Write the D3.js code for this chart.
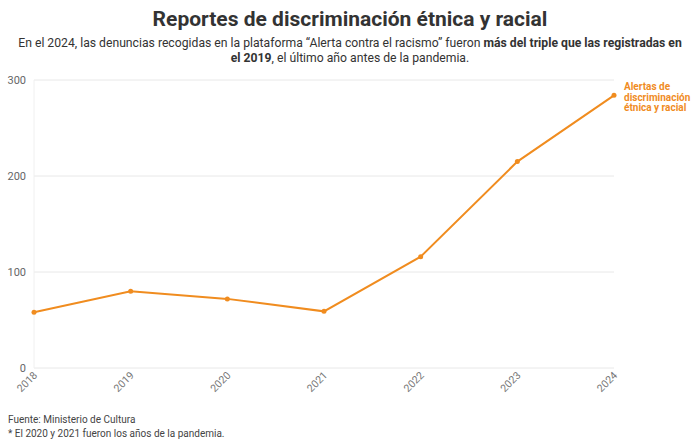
<!DOCTYPE html>
<html>
<head>
<meta charset="utf-8">
<script src="https://cdn.jsdelivr.net/npm/d3@7"></script>
<style>
  body { margin: 0; background: #fff; }
  svg text { font-family: Roboto, "Noto Sans", sans-serif; }
</style>
</head>
<body>
<div id="chart"></div>
<script>
// data
const years = ["2018", "2019", "2020", "2021", "2022", "2023", "2024"];
const alertas = [58, 80, 72, 59, 116, 215, 284];
const yTicks = [0, 100, 200, 300];
const seriesLabel = ["Alertas de", "discriminación", "étnica y racial"];

const width = 700, height = 446;
const margin = { top: 80, left: 34, right: 86, bottom: 78 };
const orange = "#f08c1f";

const svg = d3.select("#chart").append("svg")
  .attr("width", width)
  .attr("height", height);

// title + subtitle
svg.append("text")
  .attr("x", width / 2).attr("y", 26)
  .attr("text-anchor", "middle")
  .attr("font-size", 21).attr("font-weight", 700)
  .attr("fill", "#333")
  .text("Reportes de discriminación étnica y racial");

const sub1 = svg.append("text")
  .attr("x", width / 2).attr("y", 47)
  .attr("text-anchor", "middle")
  .attr("font-size", 12.2).attr("fill", "#333");
sub1.append("tspan").text("En el 2024, las denuncias recogidas en la plataforma “Alerta contra el racismo” fueron ");
sub1.append("tspan").attr("font-weight", 700).text("más del triple que las registradas en");

const sub2 = svg.append("text")
  .attr("x", width / 2).attr("y", 62)
  .attr("text-anchor", "middle")
  .attr("font-size", 12.2).attr("fill", "#333");
sub2.append("tspan").attr("font-weight", 700).text("el 2019");
sub2.append("tspan").text(", el último año antes de la pandemia.");

const x = d3.scalePoint()
  .domain(years)
  .range([margin.left, width - margin.right]);

const y = d3.scaleLinear()
  .domain([0, 300])
  .range([height - margin.bottom, margin.top]);

// grid
svg.append("g")
  .selectAll("line")
  .data(yTicks)
  .join("line")
  .attr("x1", margin.left).attr("x2", width - margin.right)
  .attr("y1", d => y(d)).attr("y2", d => y(d))
  .attr("stroke", "#e8e8e8").attr("stroke-width", 1);

svg.append("line")
  .attr("x1", margin.left).attr("x2", margin.left)
  .attr("y1", y(300)).attr("y2", y(0))
  .attr("stroke", "#f0f0f0");

// y labels
svg.append("g")
  .selectAll("text")
  .data(yTicks)
  .join("text")
  .attr("x", 26).attr("y", d => y(d) + 4)
  .attr("text-anchor", "end")
  .attr("font-size", 11).attr("fill", "#666")
  .text(d => d);

// x labels, rotated
svg.append("g")
  .selectAll("text")
  .data(years)
  .join("text")
  .attr("transform", d => `translate(${x(d) + 4},${y(0) + 8}) rotate(-45)`)
  .attr("text-anchor", "end")
  .attr("font-size", 10.5).attr("fill", "#777")
  .text(d => d);

// line
const line = d3.line()
  .x((d, i) => x(years[i]))
  .y(d => y(d));

svg.append("path")
  .datum(alertas)
  .attr("d", line)
  .attr("fill", "none")
  .attr("stroke", orange)
  .attr("stroke-width", 2);

svg.append("g")
  .selectAll("circle")
  .data(alertas)
  .join("circle")
  .attr("cx", (d, i) => x(years[i]))
  .attr("cy", d => y(d))
  .attr("r", 2.5)
  .attr("fill", orange);

// series label at the end
const last = alertas[alertas.length - 1];
const lx = x(years[years.length - 1]) + 10;
svg.append("text")
  .attr("x", lx)
  .attr("y", y(last) - 5)
  .attr("font-size", 10).attr("font-weight", 700)
  .attr("fill", orange)
  .selectAll("tspan")
  .data(seriesLabel)
  .join("tspan")
  .attr("x", lx)
  .attr("dy", (d, i) => i === 0 ? 0 : 10.5)
  .text(d => d);

// footer
svg.append("text")
  .attr("x", 8).attr("y", 423)
  .attr("font-size", 10).attr("fill", "#444")
  .text("Fuente: Ministerio de Cultura");
svg.append("text")
  .attr("x", 8).attr("y", 437)
  .attr("font-size", 10).attr("fill", "#444")
  .text("* El 2020 y 2021 fueron los años de la pandemia.");
</script>
</body>
</html>
